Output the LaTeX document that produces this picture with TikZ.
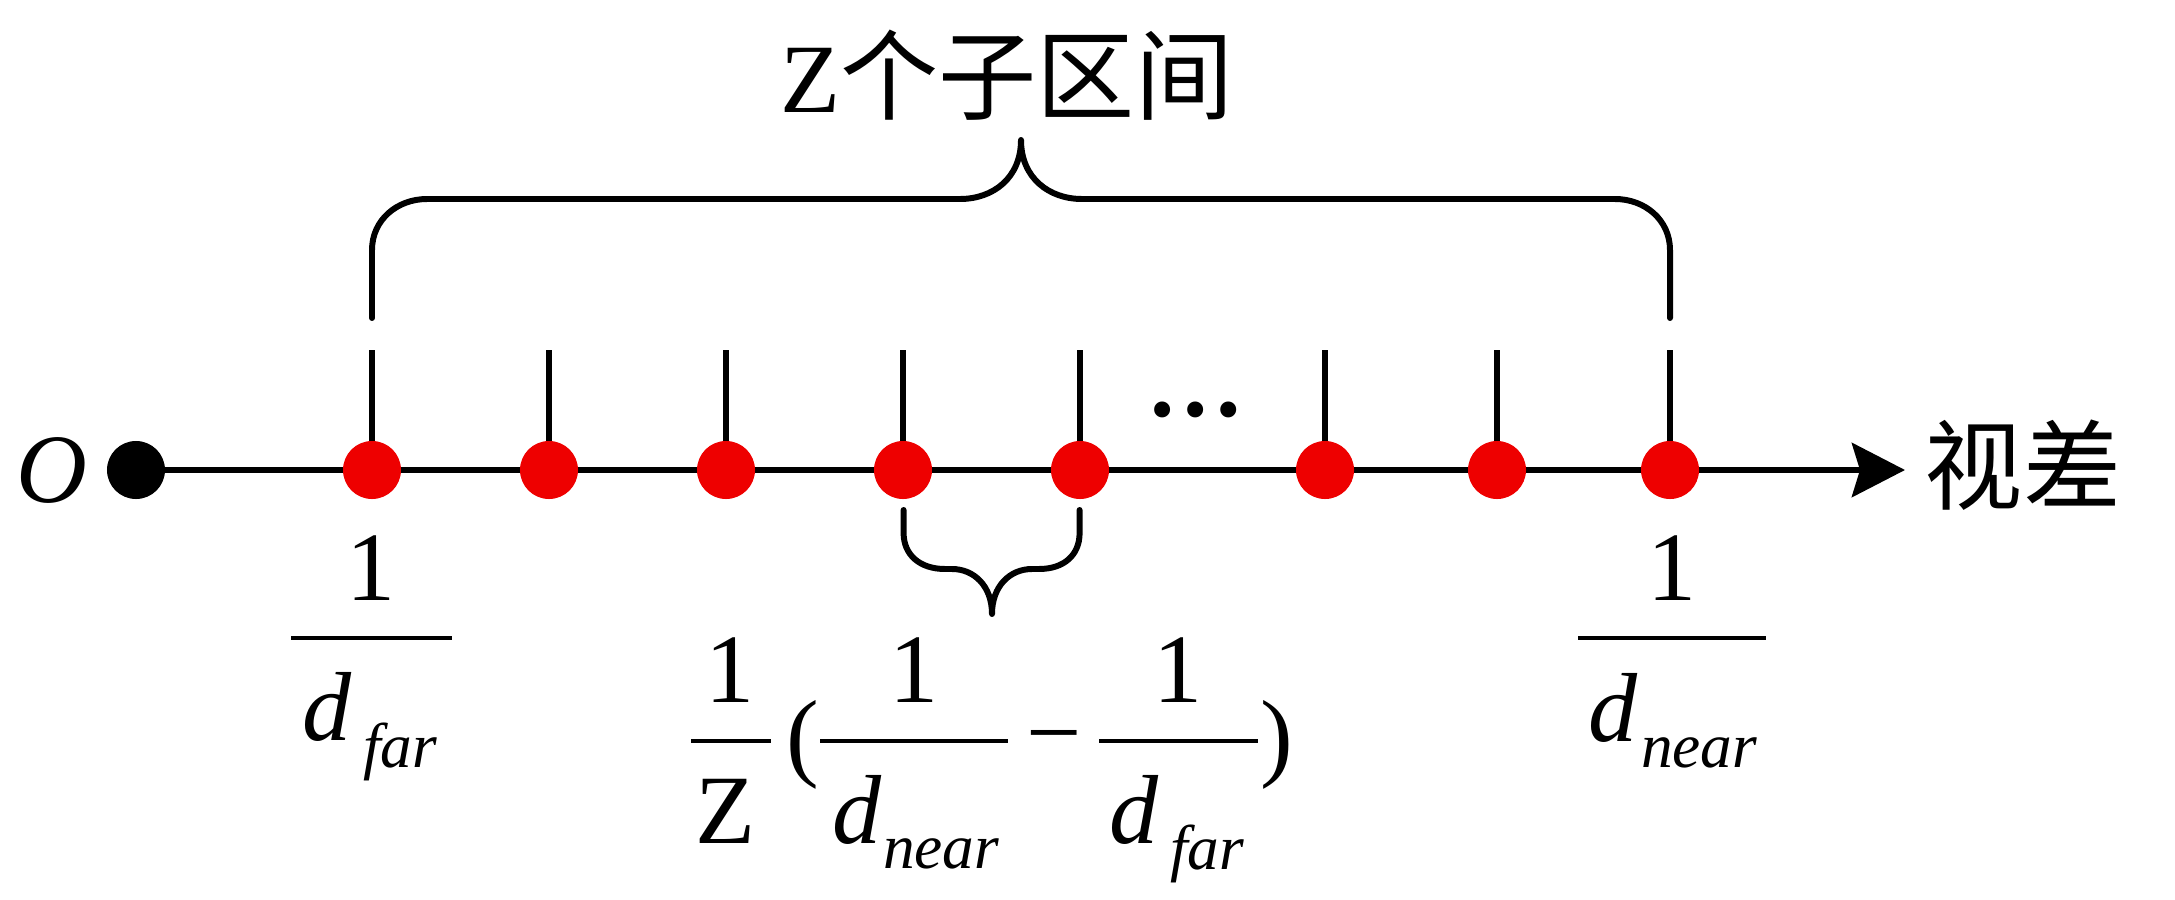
\documentclass[tikz,border=0pt]{standalone}
\usepackage{fontspec}
\setmainfont{Liberation Serif}
\newfontfamily\cjkfont{Noto Sans CJK SC}
\usetikzlibrary{arrows.meta,backgrounds}
\definecolor{dotred}{RGB}{238,0,0}
\tikzset{
  txt/.style={inner sep=0pt, outer sep=0pt, font=\fontsize{27.9pt}{30pt}\selectfont},
  itxt/.style={inner sep=0pt, outer sep=0pt, font=\fontsize{27.9pt}{30pt}\selectfont\itshape},
  cjktxt/.style={inner sep=0pt, outer sep=0pt, font=\fontsize{27.9pt}{30pt}\selectfont\cjkfont},
  subtxt/.style={inner sep=0pt, outer sep=0pt, font=\fontsize{18pt}{20pt}\selectfont\itshape},
  rdot/.style={circle, fill=dotred, draw=none, inner sep=0pt, minimum size=16.5pt},
  bdot/.style={circle, fill=black, draw=none, inner sep=0pt, minimum size=16.5pt},
  axisline/.style={line width=1.7pt, -{Stealth[length=15.1pt, width=15.4pt, inset=2.3pt]}},
  tickline/.style={line width=1.7pt},
  braceline/.style={line width=1.7pt, line join=round, line cap=round},
  fracbar/.style={line width=1.15pt}
}
\begin{document}
\begin{tikzpicture}[x=0.01cm, y=-0.01cm]
\useasboundingbox (0,0) rectangle (2175,900);

% origin and axis
\node[itxt, anchor=base] (O) at (52,502) {O};
\node[bdot] (b0) at (136,470) {};
\foreach \i/\x in {1/372,2/549,3/726,4/903,5/1080,6/1325,7/1497,8/1670}{
  \node[rdot] (d\i) at (\x,470) {};
  \coordinate (t\i) at (\x,350);
}
\coordinate (axend) at (1905,470);
\node[cjktxt, anchor=base] (vlabel) at (2023,502) {视差};
\node[txt, anchor=base, font=\fontsize{27.9pt}{30pt}\selectfont\bfseries] (dots) at (1196,416) {…};

\begin{scope}[on background layer]
  \draw[axisline] (b0.center) -- (axend);
  \foreach \i in {1,...,8}{
    \draw[tickline] (t\i) -- (d\i.center);
  }
\end{scope}

% big brace and title
\draw[braceline] (372,318) -- (372,250)
  .. controls (372,220) and (397,199) .. (427,199) -- (960,199)
  .. controls (993,199) and (1021,178) .. (1021,140)
  .. controls (1021,178) and (1049,199) .. (1082,199) -- (1615,199)
  .. controls (1645,199) and (1670,220) .. (1670,250) -- (1670,318);
\node[txt, anchor=base] (title) at (1007,112) {Z{\cjkfont 个子区间}};

% small brace
\draw[braceline] (903.6,510) -- (903.6,533)
  .. controls (903.6,555) and (920,569) .. (945,569) -- (952,569)
  .. controls (974,569) and (992,586) .. (992,614)
  .. controls (992,586) and (1010,569) .. (1032,569) -- (1039,569)
  .. controls (1064,569) and (1079.6,555) .. (1079.6,533) -- (1079.6,510);

% left fraction 1/d_far
\node[txt, anchor=base] (n1) at (371,600) {1};
\draw[fracbar] (291,638) -- (452,638);
\node[itxt, anchor=base] (dl) at (327,740) {d};
\node[subtxt, anchor=base west] (sl) at (363,767) {far};

% right fraction 1/d_near
\node[txt, anchor=base] (n2) at (1672,600) {1};
\draw[fracbar] (1578,638) -- (1766,638);
\node[itxt, anchor=base] (dr) at (1613,741) {d};
\node[subtxt, anchor=base west] (sr) at (1641,767) {near};

% middle formula 1/Z (1/d_near - 1/d_far)
\node[txt, anchor=base] (m1) at (730,702) {1};
\draw[fracbar] (691,741) -- (771,741);
\node[txt, anchor=base] (mz) at (725.5,843) {Z};
\node[txt, anchor=base] (lp) at (803,768) {(};
\node[txt, anchor=base] (m2) at (914,702) {1};
\draw[fracbar] (820,741) -- (1008,741);
\node[itxt, anchor=base] (md1) at (857,843) {d};
\node[subtxt, anchor=base west] (ms1) at (883,868) {near};
\node[txt, anchor=base] (minus) at (1054.5,765) {−};
\node[txt, anchor=base] (m3) at (1178,702) {1};
\draw[fracbar] (1099,741) -- (1258,741);
\node[itxt, anchor=base] (md2) at (1134,843) {d};
\node[subtxt, anchor=base west] (ms2) at (1170,869) {far};
\node[txt, anchor=base] (rp) at (1277,768) {)};
\end{tikzpicture}
\end{document}
